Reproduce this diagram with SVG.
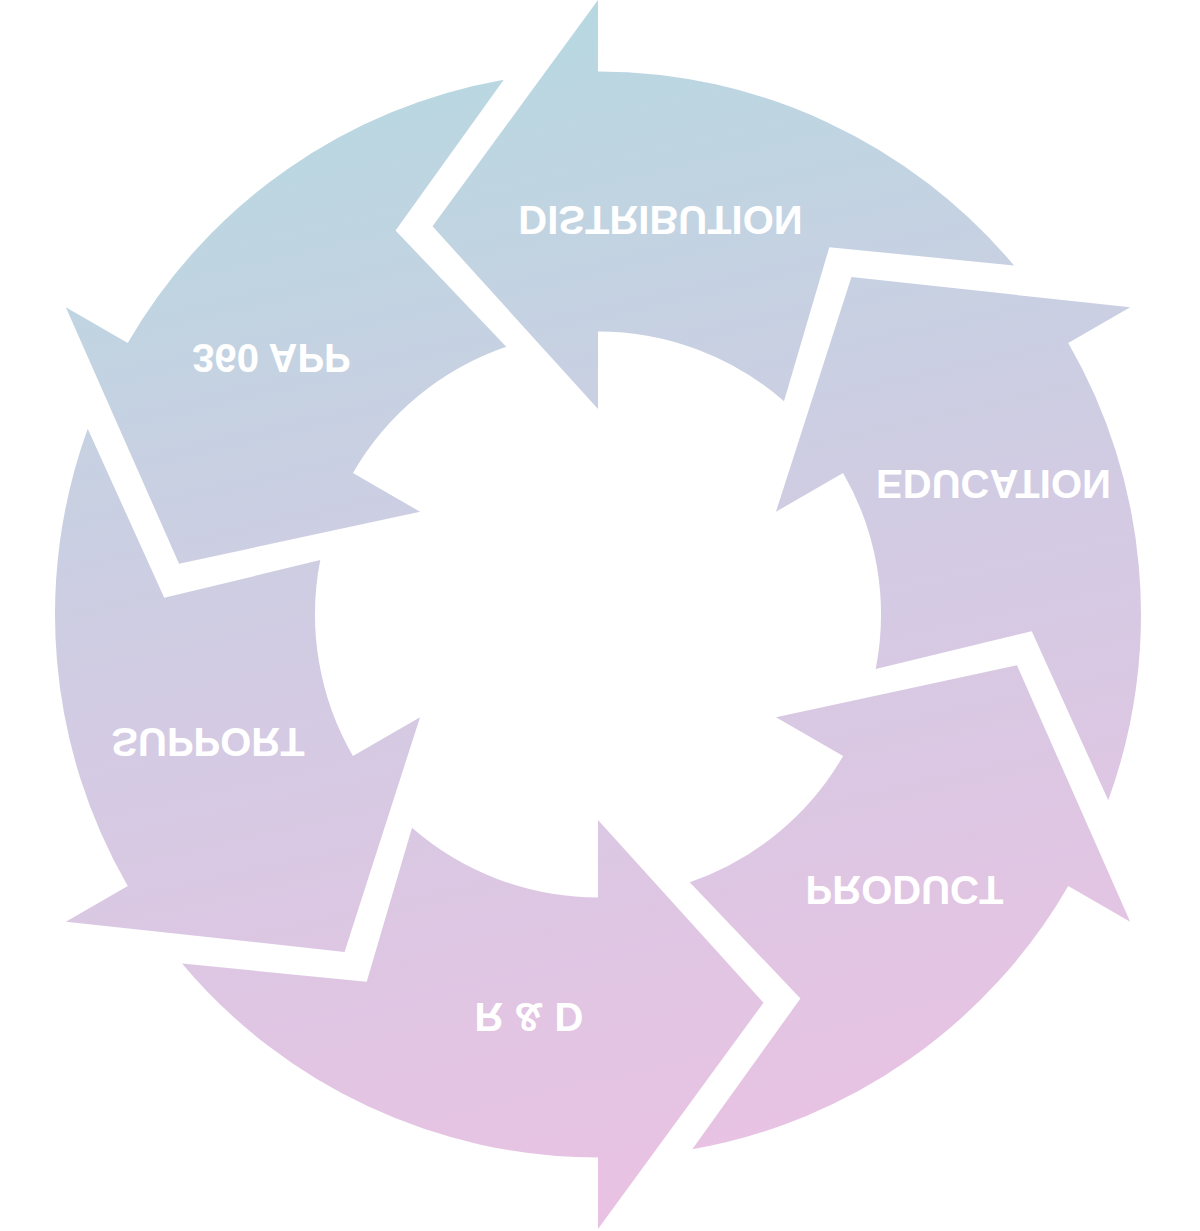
<svg xmlns="http://www.w3.org/2000/svg" width="1200" height="1231" viewBox="0 0 1200 1231">
  <defs>
    <linearGradient id="g0" gradientUnits="userSpaceOnUse" x1="460" y1="0" x2="740" y2="1231">
      <stop offset="0" stop-color="#b6d9e1"/>
      <stop offset="0.5" stop-color="#d3cbe3"/>
      <stop offset="1" stop-color="#ebc1e3"/>
    </linearGradient>
    <linearGradient id="g60" href="#g0" gradientTransform="rotate(-60 598 614.5)"/>
    <linearGradient id="g120" href="#g0" gradientTransform="rotate(-120 598 614.5)"/>
    <linearGradient id="g180" href="#g0" gradientTransform="rotate(-180 598 614.5)"/>
    <linearGradient id="gm120" href="#g0" gradientTransform="rotate(120 598 614.5)"/>
    <linearGradient id="gm60" href="#g0" gradientTransform="rotate(60 598 614.5)"/>
    <path id="seg" d="M598,0 L432.5,226.3 L598,409 L598,331.5 A283,283 0 0 1 784,401.2 L829.3,247.2 L1014,265.5 A543,543 0 0 0 598,71.5 Z"/>
  </defs>
  <style>
    .lbl { font-family: "Liberation Sans", Arial, sans-serif; font-weight: bold; font-size: 40px; fill: #ffffff; text-anchor: middle; }
  </style>
  <g id="connectors"/>
  <g id="node-distribution">
    <use href="#seg" fill="url(#g0)"/>
    <text class="lbl" transform="translate(660.5,220.5) scale(1,-1)" x="0" y="14.3">DISTRIBUTION</text>
  </g>
  <g id="node-education">
    <use href="#seg" fill="url(#g60)" transform="rotate(60 598 614.5)"/>
    <text class="lbl" transform="translate(993.5,484) scale(1,-1)" x="0" y="14.3">EDUCATION</text>
  </g>
  <g id="node-product">
    <use href="#seg" fill="url(#g120)" transform="rotate(120 598 614.5)"/>
    <text class="lbl" transform="translate(904.5,890) scale(1,-1)" x="0" y="14.3">PRODUCT</text>
  </g>
  <g id="node-rd">
    <use href="#seg" fill="url(#g180)" transform="rotate(180 598 614.5)"/>
    <text class="lbl" transform="translate(529,1017) scale(1,-1)" x="0" y="14.3">R &amp; D</text>
  </g>
  <g id="node-support">
    <use href="#seg" fill="url(#gm120)" transform="rotate(-120 598 614.5)"/>
    <text class="lbl" transform="translate(208,742.5) scale(1,-1)" x="0" y="14.3">SUPPORT</text>
  </g>
  <g id="node-360app">
    <use href="#seg" fill="url(#gm60)" transform="rotate(-60 598 614.5)"/>
    <text class="lbl" transform="translate(271.5,358.3) scale(1,-1)" x="0" y="14.3">360 APP</text>
  </g>
</svg>
